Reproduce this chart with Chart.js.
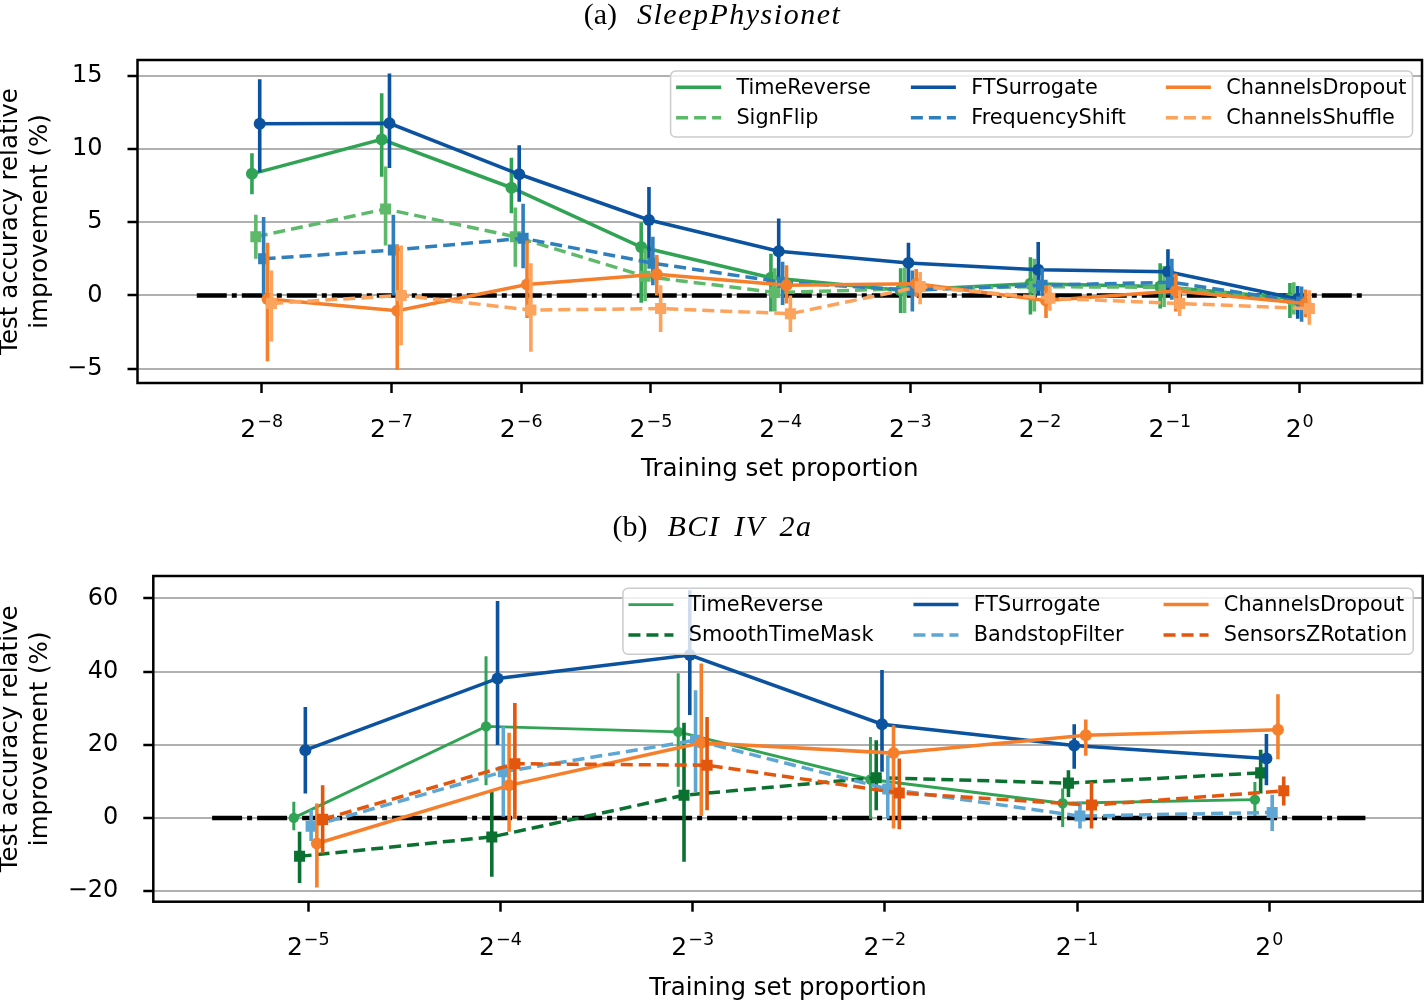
<!DOCTYPE html>
<html lang="en">
<head>
<meta charset="UTF-8">
<title>Test accuracy relative improvement</title>
<script src="https://cdn.jsdelivr.net/npm/chart.js@4"></script>
<style>
    body{ margin:0; background:#fff; }
    .panel{ position:absolute; left:0; width:1425px; }
    #panel-sleep{ top:0; height:500px; }
    #panel-bci{ top:500px; height:501px; }
    canvas{ display:block; }
</style>
</head>
<body>
<div class="panel" id="panel-sleep"><canvas id="sleep" width="1425" height="500"></canvas></div>
<div class="panel" id="panel-bci"><canvas id="bci" width="1425" height="501"></canvas></div>

<script>
// ---- (a) SleepPhysionet : x = log2 of training set proportion
const sleepExponents = [-8, -7, -6, -5, -4, -3, -2, -1, 0];

const sleepTimeReverse      = [8.3, 10.65, 7.35, 3.3, 1.2, 0.35, 0.8, 0.6, -0.2];
const sleepTimeReverseErr   = [[6.9, 9.7], [8.1, 13.8], [5.6, 9.4], [-0.5, 5.0], [-1.1, 2.85], [-1.2, 1.85], [-1.3, 2.6], [-0.9, 2.2], [-1.55, 0.85]];
const sleepSignFlip         = [4.0, 5.9, 4.0, 1.3, 0.2, 0.45, 0.6, 0.55, -0.3];
const sleepSignFlipErr      = [[2.5, 5.5], [3.4, 8.8], [1.95, 6.0], [-0.4, 3.2], [-1.1, 1.85], [-1.2, 1.9], [-1.1, 2.5], [-0.8, 2.0], [-1.3, 0.9]];
const sleepFTSurrogate      = [11.72, 11.75, 8.27, 5.15, 3.02, 2.22, 1.75, 1.61, -0.25];
const sleepFTSurrogateErr   = [[8.4, 14.75], [8.7, 15.15], [6.4, 10.25], [2.5, 7.4], [0.6, 5.25], [0.85, 3.6], [0.0, 3.65], [0.02, 3.15], [-1.6, 0.65]];
const sleepFrequencyShift   = [2.5, 3.1, 3.9, 2.2, 0.9, 0.35, 0.7, 0.9, -0.45];
const sleepFrequencyShiftErr= [[0.0, 5.35], [0.0, 5.5], [1.85, 6.25], [0.7, 4.0], [-0.65, 2.3], [-1.1, 1.7], [0.0, 1.85], [-0.3, 2.5], [-1.8, 0.6]];
const sleepChannelsDropout  = [-0.25, -1.05, 0.75, 1.45, 0.7, 0.8, -0.35, 0.3, -0.55];
const sleepChannelsDropoutErr = [[-4.5, 3.6], [-5.1, 3.45], [-1.55, 3.75], [0.0, 2.75], [-0.55, 2.05], [-0.1, 1.8], [-1.55, 0.7], [-1.1, 1.5], [-1.5, 0.4]];
const sleepChannelsShuffle  = [-0.55, 0.0, -1.0, -0.9, -1.25, 0.6, -0.2, -0.55, -0.9];
const sleepChannelsShuffleErr = [[-3.15, 1.7], [-3.4, 3.4], [-3.85, 2.2], [-2.5, 0.7], [-2.5, 0.0], [-0.6, 1.6], [-1.05, 0.7], [-1.4, 0.35], [-2.0, 0.35]];

// ---- (b) BCI IV 2a
const bciExponents = [-5, -4, -3, -2, -1, 0];

const bciTimeReverse        = [0.0, 25.0, 23.5, 10.5, 4.0, 5.0];
const bciTimeReverseErr     = [[-3.4, 4.4], [8.9, 44.2], [8.5, 39.5], [-0.2, 22.1], [-2.5, 8.0], [0.5, 9.8]];
const bciSmoothTimeMask     = [-10.5, -5.2, 6.2, 11.0, 9.5, 12.3];
const bciSmoothTimeMaskErr  = [[-17.8, -3.8], [-16.1, 7.1], [-12.0, 26.0], [2.1, 21.2], [5.7, 13.0], [6.7, 18.6]];
const bciFTSurrogate        = [18.5, 38.1, 44.5, 25.6, 19.8, 16.2];
const bciFTSurrogateErr     = [[6.7, 30.3], [19.9, 59.3], [28.1, 62.2], [12.6, 40.4], [13.4, 25.6], [8.9, 22.9]];
const bciBandstopFilter     = [-2.3, 12.6, 21.2, 7.9, 0.5, 1.5];
const bciBandstopFilterErr  = [[-6.3, 2.3], [0.3, 25.0], [7.1, 34.9], [-0.2, 17.1], [-2.9, 4.4], [-3.6, 6.3]];
const bciChannelsDropout    = [-7.0, 8.9, 20.5, 17.7, 22.6, 24.1];
const bciChannelsDropoutErr = [[-19.0, 3.9], [-3.8, 23.3], [0.5, 42.2], [-2.9, 25.3], [17.0, 26.9], [16.0, 33.8]];
const bciSensorsZRotation   = [-0.4, 14.8, 14.4, 6.8, 3.5, 7.4];
const bciSensorsZRotationErr= [[-9.7, 8.9], [-0.2, 31.4], [2.1, 27.6], [-3.1, 16.2], [-2.9, 9.8], [3.4, 11.3]];

// hue dodge (in x index units), one per series in hue order
const dodge = [-0.075, -0.045, -0.015, 0.015, 0.045, 0.075];

function series(label, values, err, color, dashed, k, extra) {
    const off = dodge[k];
    return Object.assign({
        label: label,
        data: values.map((v, i) => ({x: i + off, y: v})),
        errorBars: err.map((e, i) => ({x: i + off, lo: e[0], hi: e[1]})),
        borderColor: color,
        backgroundColor: color,
        pointBackgroundColor: color,
        pointBorderWidth: 0,
        borderWidth: 3.5,
        errorWidth: 3.6,
        borderDash: dashed ? [12, 6] : [],
        pointStyle: dashed ? 'rect' : 'circle',
        pointRadius: dashed ? 7.8 : 6,
        tension: 0,
        fill: false,
        order: 10 - k
    }, extra || {});
}

function baseline(n) {
    return {
        label: 'baseline',
        data: [{x: -0.5, y: 0}, {x: n - 0.5, y: 0}],
        borderColor: '#000',
        borderWidth: 4.5,
        borderDash: [30, 5, 5, 5],
        pointRadius: 0,
        tension: 0,
        order: 100
    };
}

// vertical error bars, drawn right before the series they belong to
const errorBarPlugin = {
    id: 'errorBars',
    beforeDatasetDraw(chart, args) {
        const ds = chart.data.datasets[args.index];
        if (!ds.errorBars) return;
        const {ctx, scales: {x, y}} = chart;
        ctx.save();
        ctx.strokeStyle = ds.borderColor;
        ctx.lineWidth = ds.errorWidth;
        ctx.lineCap = 'butt';
        ctx.beginPath();
        ds.errorBars.forEach(e => {
            const px = x.getPixelForValue(e.x);
            ctx.moveTo(px, y.getPixelForValue(e.lo));
            ctx.lineTo(px, y.getPixelForValue(e.hi));
        });
        ctx.stroke();
        ctx.restore();
    }
};

// full box around the axes
const framePlugin = {
    id: 'frame',
    afterDatasetsDraw(chart) {
        const {ctx, chartArea: a} = chart;
        ctx.save();
        ctx.strokeStyle = '#000';
        ctx.lineWidth = 2.5;
        ctx.strokeRect(a.left, a.top, a.right - a.left, a.bottom - a.top);
        ctx.restore();
    }
};

// matplotlib-like legend: 3 columns x 2 rows, filled column by column
const legendPlugin = {
    id: 'gridLegend',
    afterDraw(chart, args, o) {
        const {ctx, chartArea: a} = chart;
        const items = chart.data.datasets.filter(d => d.errorBars);
        const rows = o.rows;
        const cols = Math.ceil(items.length / rows);
        ctx.save();
        ctx.font = o.font;
        const colW = [];
        for (let c = 0; c < cols; c++) {
            let m = 0;
            for (let r = 0; r < rows; r++) {
                const it = items[c * rows + r];
                if (it) m = Math.max(m, ctx.measureText(it.label).width);
            }
            colW.push(o.handle + o.handleGap + m);
        }
        const w = o.padLeft + colW.reduce((s, v) => s + v, 0) + o.colGap * (cols - 1) + o.padRight;
        const left = a.right - o.right - w;
        const top = a.top + o.top;
        const h = o.height, rad = 5;

        ctx.beginPath();
        ctx.moveTo(left + rad, top);
        ctx.arcTo(left + w, top, left + w, top + h, rad);
        ctx.arcTo(left + w, top + h, left, top + h, rad);
        ctx.arcTo(left, top + h, left, top, rad);
        ctx.arcTo(left, top, left + w, top, rad);
        ctx.closePath();
        ctx.fillStyle = 'rgba(255,255,255,0.8)';
        ctx.fill();
        ctx.strokeStyle = '#cccccc';
        ctx.lineWidth = 1.5;
        ctx.stroke();

        ctx.textBaseline = 'middle';
        ctx.textAlign = 'left';
        let cx = left + o.padLeft;
        for (let c = 0; c < cols; c++) {
            for (let r = 0; r < rows; r++) {
                const it = items[c * rows + r];
                if (!it) continue;
                const y = top + o.rowY[r];
                ctx.beginPath();
                ctx.setLineDash(it.borderDash);
                ctx.strokeStyle = it.borderColor;
                ctx.lineWidth = it.borderWidth;
                ctx.moveTo(cx, y);
                ctx.lineTo(cx + o.handle, y);
                ctx.stroke();
                ctx.setLineDash([]);
                ctx.fillStyle = '#000';
                ctx.fillText(it.label, cx + o.handle + o.handleGap, y + 1);
            }
            cx += colW[c] + o.colGap;
        }
        ctx.restore();
    }
};

// title, 2^k tick labels, axis labels
const textPlugin = {
    id: 'figureText',
    afterDraw(chart, args, o) {
        const {ctx, chartArea: a, scales: {x}} = chart;
        ctx.save();
        ctx.fillStyle = '#000';

        // title: "(a)" upright + name in italic, centred on the figure
        ctx.textBaseline = 'alphabetic';
        ctx.textAlign = 'left';
        ctx.font = '30px "Liberation Serif"';
        const w1 = ctx.measureText(o.titleTag).width;
        ctx.font = 'italic 30px "Liberation Serif"';
        ctx.letterSpacing = '1.5px';
        ctx.wordSpacing = '5px';
        const w2 = ctx.measureText(o.titleName).width;
        const gap = 20;
        let tx = chart.width / 2 - (w1 + gap + w2) / 2;
        ctx.fillText(o.titleName, tx + w1 + gap, o.titleBaseline);
        ctx.letterSpacing = '0px';
        ctx.wordSpacing = '0px';
        ctx.font = '30px "Liberation Serif"';
        ctx.fillText(o.titleTag, tx, o.titleBaseline);

        // x tick labels 2^k
        x.ticks.forEach(t => {
            const e = o.exponents[t.value];
            if (e === undefined) return;
            const px = x.getPixelForValue(t.value);
            const sup = e < 0 ? '\u2212' + (-e) : String(e);
            ctx.font = '25px "DejaVu Sans"';
            const bw = ctx.measureText('2').width;
            ctx.font = '17.5px "DejaVu Sans"';
            const sw = ctx.measureText(sup).width;
            const left = px - (bw + sw + 1) / 2;
            ctx.font = '25px "DejaVu Sans"';
            ctx.fillText('2', left, a.bottom + 53.7);
            ctx.font = '17.5px "DejaVu Sans"';
            ctx.fillText(sup, left + bw + 1, a.bottom + 43.5);
        });

        // x axis label
        ctx.font = '24.5px "DejaVu Sans"';
        ctx.textAlign = 'center';
        ctx.textBaseline = 'middle';
        ctx.fillText(o.xLabel, (a.left + a.right) / 2, a.bottom + 87);

        // y axis label (two lines, rotated)
        ctx.translate(11, (a.top + a.bottom) / 2);
        ctx.rotate(-Math.PI / 2);
        ctx.fillText(o.yLabel[0], 0, 0);
        ctx.fillText(o.yLabel[1], 0, 29.5);
        ctx.restore();
    }
};

function makeChart(canvasId, cfg) {
    return new Chart(document.getElementById(canvasId), {
        type: 'line',
        data: {datasets: cfg.datasets},
        options: {
            responsive: false,
            animation: false,
            events: [],
            layout: {autoPadding: false, padding: cfg.padding},
            plugins: {
                legend: {display: false},
                tooltip: {enabled: false},
                gridLegend: {
                    rows: 2, font: '20.8px "DejaVu Sans"',
                    handle: 45, handleGap: 15.3, colGap: 40,
                    padLeft: 5.5, padRight: 6, right: 9.5,
                    top: cfg.legendTop, height: 66, rowY: [16.3, 46.7]
                },
                figureText: {
                    titleTag: cfg.titleTag, titleName: cfg.titleName,
                    titleBaseline: cfg.titleBaseline,
                    exponents: cfg.exponents,
                    xLabel: 'Training set proportion',
                    yLabel: ['Test accuracy relative', 'improvement (%)']
                }
            },
            scales: {
                x: {
                    type: 'linear',
                    min: cfg.xMin, max: cfg.xMax,
                    afterFit: s => { s.height = cfg.xAxisHeight; },
                    ticks: {display: false, stepSize: 1, includeBounds: false},
                    grid: {drawOnChartArea: false, drawTicks: true, tickLength: 10, tickColor: '#000', tickWidth: 2.5},
                    border: {display: false}
                },
                y: {
                    min: cfg.yMin, max: cfg.yMax,
                    afterFit: s => { s.width = cfg.yAxisWidth; },
                    ticks: {
                        stepSize: cfg.yStep, includeBounds: false, padding: 25,
                        color: '#000', font: {family: 'DejaVu Sans', size: 24},
                        callback: v => v < 0 ? '\u2212' + Math.abs(v) : String(v)
                    },
                    grid: {color: '#b0b0b0', lineWidth: 2, tickLength: 10, tickColor: '#000', tickWidth: 2.5},
                    border: {display: false}
                }
            }
        },
        plugins: [errorBarPlugin, framePlugin, legendPlugin, textPlugin]
    });
}

let sleepChart = makeChart('sleep', {
    datasets: [
        baseline(sleepExponents.length),
        series('TimeReverse', sleepTimeReverse, sleepTimeReverseErr, '#31a354', false, 0),
        series('SignFlip', sleepSignFlip, sleepSignFlipErr, '#5eb96b', true, 1),
        series('FTSurrogate', sleepFTSurrogate, sleepFTSurrogateErr, '#0b539e', false, 2),
        series('FrequencyShift', sleepFrequencyShift, sleepFrequencyShiftErr, '#2f7fbd', true, 3),
        series('ChannelsDropout', sleepChannelsDropout, sleepChannelsDropoutErr, '#f57f2a', false, 4),
        series('ChannelsShuffle', sleepChannelsShuffle, sleepChannelsShuffleErr, '#fca35e', true, 5)
    ],
    padding: {top: 60, right: 3, bottom: 0, left: 0},
    yAxisWidth: 137.5, xAxisHeight: 117,
    xMin: -0.957, xMax: 8.943,
    yMin: -5.98, yMax: 16.07, yStep: 5,
    legendTop: 11,
    titleTag: '(a)', titleName: 'SleepPhysionet', titleBaseline: 23.5,
    exponents: sleepExponents
});

let bciChart = makeChart('bci', {
    datasets: [
        baseline(bciExponents.length),
        series('TimeReverse', bciTimeReverse, bciTimeReverseErr, '#31a354', false, 0, {borderWidth: 2.9, errorWidth: 3.0, pointRadius: 5.2}),
        series('SmoothTimeMask', bciSmoothTimeMask, bciSmoothTimeMaskErr, '#0a7131', true, 1),
        series('FTSurrogate', bciFTSurrogate, bciFTSurrogateErr, '#0b539e', false, 2),
        series('BandstopFilter', bciBandstopFilter, bciBandstopFilterErr, '#5ea6d3', true, 3),
        series('ChannelsDropout', bciChannelsDropout, bciChannelsDropoutErr, '#f67f2c', false, 4),
        series('SensorsZRotation', bciSensorsZRotation, bciSensorsZRotationErr, '#e3560d', true, 5)
    ],
    padding: {top: 76, right: 2.3, bottom: 0, left: 0},
    yAxisWidth: 153.3, xAxisHeight: 99.3,
    xMin: -0.806, xMax: 5.798,
    yMin: -22.9, yMax: 66.1, yStep: 20,
    legendTop: 12.3,
    titleTag: '(b)', titleName: 'BCI IV 2a', titleBaseline: 36,
    exponents: bciExponents
});
</script>
</body>
</html>
